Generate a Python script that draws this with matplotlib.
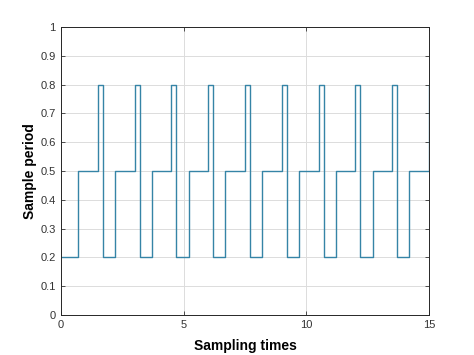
import numpy as np
import matplotlib
matplotlib.use('Agg')
import matplotlib.pyplot as plt

plt.rcParams['font.family'] = ['Liberation Sans', 'DejaVu Sans']

# sampling instants and the sample period held from each instant
t = [0, 0.2, 0.7, 1.5, 1.7, 2.2, 3.0, 3.2, 3.7, 4.5, 4.7, 5.2, 6.0, 6.2, 6.7,
     7.5, 7.7, 8.2, 9.0, 9.2, 9.7, 10.5, 10.7, 11.2, 12.0, 12.2, 12.7,
     13.5, 13.7, 14.2, 15.0, 15.2]
h = [0.2, 0.2, 0.5, 0.8, 0.2, 0.5, 0.8, 0.2, 0.5, 0.8, 0.2, 0.5, 0.8, 0.2, 0.5,
     0.8, 0.2, 0.5, 0.8, 0.2, 0.5, 0.8, 0.2, 0.5, 0.8, 0.2, 0.5,
     0.8, 0.2, 0.5, 0.8, 0.2]
xticks = [0, 5, 10, 15]
yticks = [0, 0.1, 0.2, 0.3, 0.4, 0.5, 0.6, 0.7, 0.8, 0.9, 1]
yticklabels = ['0', '0.1', '0.2', '0.3', '0.4', '0.5', '0.6', '0.7', '0.8', '0.9', '1']

fig = plt.figure(figsize=(4.74, 3.55), dpi=100)
ax = fig.add_axes([0.129, 0.113, 0.776, 0.811])

ax.step(t, h, where='post', color='#3584a6', lw=1.0)

ax.set_xlim(0, 15)
ax.set_ylim(0, 1)
ax.set_xticks(xticks)
ax.set_yticks(yticks)
ax.set_yticklabels(yticklabels)
ax.grid(True, color='#dcdcdc', lw=0.7)
ax.set_axisbelow(True)
ax.tick_params(direction='in', top=True, right=True, length=3, width=0.6,
               labelsize=8, colors='#333333', pad=4)
for s in ax.spines.values():
    s.set_color('#262626')
    s.set_linewidth(0.7)

ax.set_xlabel('Sampling times', fontsize=10, fontweight='bold', labelpad=6)
ax.set_ylabel('Sample period', fontsize=10, fontweight='bold', labelpad=2)

fig.savefig('out.png', dpi=100)
